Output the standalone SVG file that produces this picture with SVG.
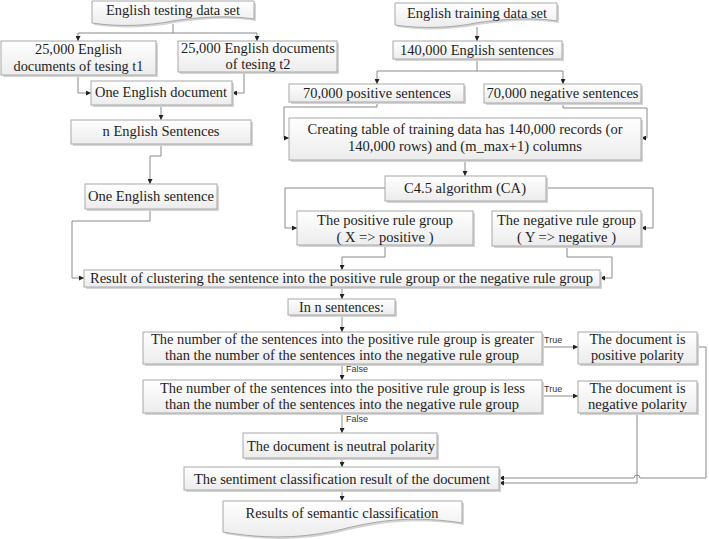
<svg xmlns="http://www.w3.org/2000/svg" width="709" height="539" viewBox="0 0 709 539">
<defs>
<linearGradient id="g" x1="0" y1="0" x2="0" y2="1">
<stop offset="0" stop-color="#ffffff"/>
<stop offset="1" stop-color="#ececec"/>
</linearGradient>
<marker id="ar" viewBox="0 0 6 6" refX="6" refY="3" markerWidth="5" markerHeight="5" markerUnits="userSpaceOnUse" orient="auto">
<path d="M0,0 L6,3 L0,6 Z" fill="#222"/>
</marker>
<style>
.b{fill:url(#g);stroke:#a8a8a8;stroke-width:1}
.sh{fill:#d4d4d4;stroke:none}
.t{font-family:'Liberation Serif','Times New Roman','DejaVu Serif',serif;font-size:14.5px;fill:#1e1e1e;text-anchor:middle}
.l{font-family:'Liberation Sans',Arial,sans-serif;font-size:9px;fill:#333}
.c{fill:none;stroke:#8a8a8a;stroke-width:1}
.a{marker-end:url(#ar)}
</style>
</defs>
<rect width="709" height="539" fill="#ffffff"/>

<g id="connectors">
<path class="c" d="M173,24 V33 M78,33 H257"/>
<path class="c a" d="M78,33 V41"/>
<path class="c a" d="M257,33 V41"/>
<path class="c a" d="M78,75 V93 H91"/>
<path class="c a" d="M244,72 V93 H232"/>
<path class="c a" d="M161,105 V120"/>
<path class="c a" d="M161,144 V156 H150 V184"/>
<path class="c a" d="M150,209 V221 H72 V278 H84"/>
<path class="c a" d="M477,27 V41"/>
<path class="c" d="M477,59 V71 M377,71 H563"/>
<path class="c a" d="M377,71 V84"/>
<path class="c a" d="M563,71 V84"/>
<path class="c a" d="M377,102 V107 H284 V138 H289"/>
<path class="c a" d="M563,103 V108 H647 V138 H641"/>
<path class="c a" d="M465,160 V176"/>
<path class="c a" d="M385,188 H285 V228 H297"/>
<path class="c a" d="M546,188 H653 V228 H641"/>
<path class="c a" d="M385,245 V257 H342 V270"/>
<path class="c a" d="M567,246 V257 H612 V278 H600"/>
<path class="c a" d="M342,287 V299"/>
<path class="c a" d="M342,315 V332"/>
<path class="c a" d="M342,364 V380"/>
<path class="c a" d="M342,413 V433"/>
<path class="c a" d="M542,347 H578"/>
<path class="c a" d="M542,396 H578"/>
<path class="c a" d="M342,458 V467"/>
<path class="c a" d="M342,490 V501"/>
<path class="c a" d="M697,347 H706 V478 H640 A3,3 0 0 0 634,478 H499"/>
<path class="c a" d="M637,413 V483 H499"/>
<text class="l" x="544" y="343">True</text>
<text class="l" x="544" y="392">True</text>
<text class="l" x="346" y="372">False</text>
<text class="l" x="346" y="422">False</text>
</g>

<g id="testing-data-set">
<path class="sh" d="M94,3 H256 V21 C230,17 200,19 175,23 C150,28 120,29 94,25 Z"/>
<path class="b" d="M92,1 H254 V19 C228,15 198,17 173,21 C148,26 118,27 92,23 Z"/>
<text class="t" x="173" y="15" textLength="134" lengthAdjust="spacingAndGlyphs">English testing data set</text>
</g>
<g id="docs-t1">
<rect class="sh" x="3" y="43" width="155" height="34"/>
<rect class="b" x="1" y="41" width="155" height="34"/>
<text class="t" x="78.5" y="54" textLength="87" lengthAdjust="spacingAndGlyphs">25,000 English</text>
<text class="t" x="78.5" y="71" textLength="130" lengthAdjust="spacingAndGlyphs">documents of tesing t1</text>
</g>
<g id="docs-t2">
<rect class="sh" x="180" y="43" width="159" height="31"/>
<rect class="b" x="178" y="41" width="159" height="31"/>
<text class="t" x="258" y="53" textLength="154" lengthAdjust="spacingAndGlyphs">25,000 English documents</text>
<text class="t" x="258" y="69" textLength="65" lengthAdjust="spacingAndGlyphs">of tesing t2</text>
</g>
<g id="one-document">
<rect class="sh" x="93" y="83" width="141" height="24"/>
<rect class="b" x="91" y="81" width="141" height="24"/>
<text class="t" x="161" y="97" textLength="132" lengthAdjust="spacingAndGlyphs">One English document</text>
</g>
<g id="n-sentences">
<rect class="sh" x="73" y="122" width="180" height="24"/>
<rect class="b" x="71" y="120" width="180" height="24"/>
<text class="t" x="161" y="136" textLength="117" lengthAdjust="spacingAndGlyphs">n English Sentences</text>
</g>
<g id="one-sentence">
<rect class="sh" x="87" y="186" width="132" height="25"/>
<rect class="b" x="85" y="184" width="132" height="25"/>
<text class="t" x="151" y="201" textLength="126" lengthAdjust="spacingAndGlyphs">One English sentence</text>
</g>

<g id="training-data-set">
<path class="sh" d="M397,5 H559 V23 C533,19 503,21 478,25 C453,30 423,31 397,27 Z"/>
<path class="b" d="M395,3 H557 V21 C531,17 501,19 476,23 C451,28 421,29 395,25 Z"/>
<text class="t" x="477" y="18" textLength="140" lengthAdjust="spacingAndGlyphs">English training data set</text>
</g>
<g id="s140000">
<rect class="sh" x="395" y="43" width="169" height="18"/>
<rect class="b" x="393" y="41" width="169" height="18"/>
<text class="t" x="477" y="55" textLength="154" lengthAdjust="spacingAndGlyphs">140,000 English sentences</text>
</g>
<g id="pos70000">
<rect class="sh" x="291" y="86" width="175" height="18"/>
<rect class="b" x="289" y="84" width="175" height="18"/>
<text class="t" x="377" y="98" textLength="148" lengthAdjust="spacingAndGlyphs">70,000 positive sentences</text>
</g>
<g id="neg70000">
<rect class="sh" x="486" y="86" width="157" height="19"/>
<rect class="b" x="484" y="84" width="157" height="19"/>
<text class="t" x="562.5" y="98" textLength="152" lengthAdjust="spacingAndGlyphs">70,000 negative sentences</text>
</g>
<g id="creating-table">
<rect class="sh" x="291" y="120" width="352" height="42"/>
<rect class="b" x="289" y="118" width="352" height="42"/>
<text class="t" x="465" y="134" textLength="315" lengthAdjust="spacingAndGlyphs">Creating table of training data has 140,000 records (or</text>
<text class="t" x="465" y="151" textLength="234" lengthAdjust="spacingAndGlyphs">140,000 rows) and (m_max+1) columns</text>
</g>
<g id="c45">
<rect class="sh" x="387" y="178" width="161" height="25"/>
<rect class="b" x="385" y="176" width="161" height="25"/>
<text class="t" x="465" y="193" textLength="122" lengthAdjust="spacingAndGlyphs">C4.5 algorithm (CA)</text>
</g>
<g id="positive-rule-group">
<rect class="sh" x="299" y="213" width="176" height="34"/>
<rect class="b" x="297" y="211" width="176" height="34"/>
<text class="t" x="385" y="225" textLength="136" lengthAdjust="spacingAndGlyphs">The positive rule group</text>
<text class="t" x="385" y="242" textLength="97" lengthAdjust="spacingAndGlyphs">( X =&gt; positive )</text>
</g>
<g id="negative-rule-group">
<rect class="sh" x="494" y="213" width="149" height="35"/>
<rect class="b" x="492" y="211" width="149" height="35"/>
<text class="t" x="566.5" y="225" textLength="139" lengthAdjust="spacingAndGlyphs">The negative rule group</text>
<text class="t" x="566.5" y="242" textLength="99" lengthAdjust="spacingAndGlyphs">( Y =&gt; negative )</text>
</g>
<g id="clustering-result">
<rect class="sh" x="86" y="272" width="516" height="17"/>
<rect class="b" x="84" y="270" width="516" height="17"/>
<text class="t" x="341.5" y="283" textLength="503" lengthAdjust="spacingAndGlyphs">Result of clustering the sentence into the positive rule group or the negative rule group</text>
</g>
<g id="in-n-sentences">
<rect class="sh" x="290" y="301" width="107" height="16"/>
<rect class="b" x="288" y="299" width="107" height="16"/>
<text class="t" x="341.5" y="312" textLength="85" lengthAdjust="spacingAndGlyphs">In n sentences:</text>
</g>
<g id="decision-greater">
<rect class="sh" x="145" y="334" width="399" height="32"/>
<rect class="b" x="143" y="332" width="399" height="32"/>
<text class="t" x="342.5" y="344" textLength="383" lengthAdjust="spacingAndGlyphs">The number of the sentences into the positive rule group is greater</text>
<text class="t" x="342" y="360" textLength="354" lengthAdjust="spacingAndGlyphs">than the number of the sentences into the negative rule group</text>
</g>
<g id="decision-less">
<rect class="sh" x="145" y="382" width="399" height="33"/>
<rect class="b" x="143" y="380" width="399" height="33"/>
<text class="t" x="342.5" y="393" textLength="365" lengthAdjust="spacingAndGlyphs">The number of the sentences into the positive rule group is less</text>
<text class="t" x="342" y="409" textLength="354" lengthAdjust="spacingAndGlyphs">than the number of the sentences into the negative rule group</text>
</g>
<g id="positive-polarity">
<rect class="sh" x="580" y="334" width="119" height="32"/>
<rect class="b" x="578" y="332" width="119" height="32"/>
<text class="t" x="637.5" y="344" textLength="96" lengthAdjust="spacingAndGlyphs">The document is</text>
<text class="t" x="637.5" y="360" textLength="93" lengthAdjust="spacingAndGlyphs">positive polarity</text>
</g>
<g id="negative-polarity">
<rect class="sh" x="580" y="383" width="119" height="32"/>
<rect class="b" x="578" y="381" width="119" height="32"/>
<text class="t" x="637.5" y="393" textLength="96" lengthAdjust="spacingAndGlyphs">The document is</text>
<text class="t" x="637.5" y="409" textLength="99" lengthAdjust="spacingAndGlyphs">negative polarity</text>
</g>
<g id="neutral-polarity">
<rect class="sh" x="245" y="435" width="194" height="25"/>
<rect class="b" x="243" y="433" width="194" height="25"/>
<text class="t" x="341" y="451" textLength="188" lengthAdjust="spacingAndGlyphs">The document is neutral polarity</text>
</g>
<g id="sentiment-result">
<rect class="sh" x="186" y="469" width="315" height="23"/>
<rect class="b" x="184" y="467" width="315" height="23"/>
<text class="t" x="342" y="484" textLength="296" lengthAdjust="spacingAndGlyphs">The sentiment classification result of the document</text>
</g>
<g id="semantic-results">
<path class="sh" d="M225,503 H464 V525 C420,518 385,521 345,531 C305,541 265,541 225,534 Z"/>
<path class="b" d="M223,501 H462 V523 C418,516 383,519 343,529 C303,539 263,539 223,532 Z"/>
<text class="t" x="342" y="518" textLength="193" lengthAdjust="spacingAndGlyphs">Results of semantic classification</text>
</g>
</svg>
